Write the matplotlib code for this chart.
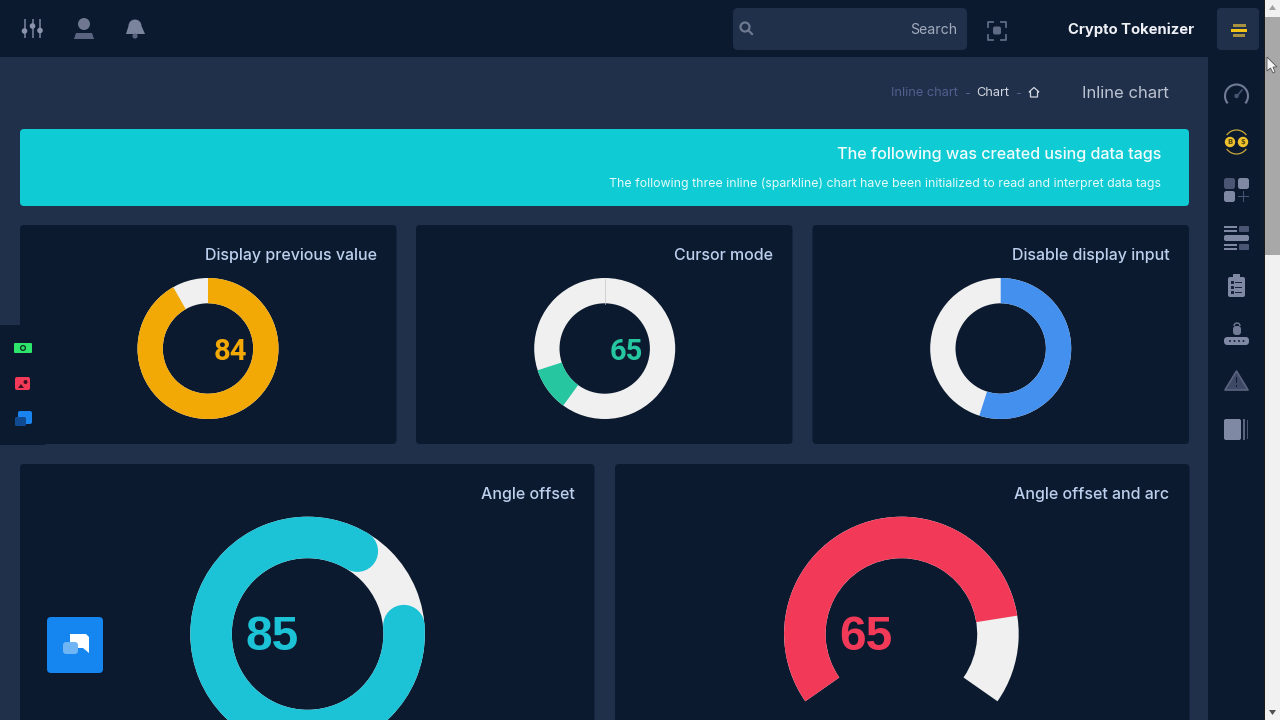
import matplotlib
matplotlib.use('Agg')
import matplotlib.pyplot as plt
import numpy as np
from matplotlib.patches import Wedge, Circle, FancyBboxPatch, Rectangle, Polygon, Arc

# 文字
brand = 'Crypto Tokenizer'
page_title = 'Inline chart'
crumbs = ['Inline chart', 'Chart']
banner_title = 'The following was created using data tags'
banner_text = 'The following three inline (sparkline) chart have been initialized to read and interpret data tags'

# 小圆环
small_titles = ['Display previous value', 'Cursor mode', 'Disable display input']
small_labels = ['84', '65', '']
small_fill = [0.918, 0.65, 0.549]
small_colors = ['#f2a906', '#26c6a0', '#4490ee']

# 大圆环
big_titles = ['Angle offset', 'Angle offset and arc']
big_labels = ['85', '65']
big_fill = [0.85, 0.824]
big_colors = ['#1cc3d6', '#f23a58']

TOP = '#0c1a30'
PAGE = '#20304a'
CARD = '#0c1a2f'
WHITE = '#f0f0f0'
UI_FONT = ['Inter', 'Noto Sans', 'DejaVu Sans']
SMALL_NUM = ['Roboto', 'DejaVu Sans']
BIG_NUM = ['Liberation Sans', 'DejaVu Sans']

fig = plt.figure(figsize=(12.8, 7.2), dpi=100, facecolor=PAGE)
ax = fig.add_axes([0, 0, 1, 1])
ax.set_xlim(0, 1280)
ax.set_ylim(720, 0)
ax.axis('off')


def box(x, y, w, h, color, r=4):
    ax.add_patch(FancyBboxPatch((x + r, y + r), w - 2 * r, h - 2 * r,
                                boxstyle=f'round,pad={r},rounding_size={r}',
                                fc=color, ec='none'))


def rect(x, y, w, h, color):
    ax.add_patch(Rectangle((x, y), w, h, fc=color, ec='none'))


def label(x, y, s, size, color, ha='right', weight='normal', font=UI_FONT):
    ax.text(x, y, s, fontsize=size, color=color, ha=ha, va='center_baseline',
            fontweight=weight, family=font)


def ring(cx, cy, r, w, a1, a2, color):
    # 角度从顶部开始顺时针，y轴是反的
    ax.add_patch(Wedge((cx, cy), r, a1 - 90, a2 - 90, width=w, fc=color, ec='none'))


def dot(x, y, r, color):
    ax.add_patch(Circle((x, y), r, fc=color, ec='none'))


# 背景块
rect(0, 0, 1280, 57, TOP)
rect(1208, 57, 56, 663, TOP)
rect(1264, 0, 1.5, 720, '#1a1a1a')
rect(1265, 0, 15, 720, '#f1f1f1')
rect(1265, 17, 15, 238, '#a8a8a8')
ax.add_patch(Polygon([[1272.5, 5], [1269, 10], [1276, 10]], fc='#a0a0a0', ec='none'))
ax.add_patch(Polygon([[1272.5, 715], [1269, 710], [1276, 710]], fc='#505050', ec='none'))
ax.add_patch(Polygon([[1267, 57], [1267, 71], [1270.5, 68], [1273, 73], [1275, 72], [1273, 67], [1277, 67]],
                     fc='#f5f5f5', ec='#555555', lw=0.6))

# 顶栏左边的图标
for x, y in zip([24.5, 32.5, 40], [31, 26, 30.5]):
    rect(x - 1, 19, 2, 19, '#616b85')
    dot(x, y, 2.8, '#8b94aa')
dot(84, 24, 6, '#6f7890')
ax.add_patch(Polygon([[74, 39], [76, 33], [92, 33], [94, 39]], fc='#5a6480', ec='none'))
ax.add_patch(Wedge((135, 26), 6.5, 180, 360, fc='#7a849c', ec='none'))
ax.add_patch(Polygon([[128.5, 26], [141.5, 26], [145, 34], [126, 34]], fc='#7a849c', ec='none'))
dot(135, 36, 2.6, '#5a6480')

# 搜索框
box(733, 8, 234, 42, PAGE, 5)
ax.add_patch(Circle((745, 27), 4.5, fc='none', ec='#6e788e', lw=1.6))
ax.plot([748.5, 752], [30.5, 34], color='#6e788e', lw=1.6)
label(957, 29, 'Search', 10.2, '#a3abbb')
for dx, dy in [(-1, -1), (1, -1), (-1, 1), (1, 1)]:
    ax.plot([997 + dx * 9, 997 + dx * 9, 997 + dx * 4], [30.5 + dy * 4, 30.5 + dy * 9, 30.5 + dy * 9],
            color='#5f6a84', lw=1.3)
box(993, 26.5, 8, 8, '#5f6a84', 2)
label(1194, 28.5, brand, 10.7, '#eef0f5', weight='bold')
box(1217, 8, 42, 42, PAGE, 4)
rect(1233, 24, 13, 3, '#a8923f')
rect(1231, 29, 16, 3, '#f5c518')
rect(1233, 34, 12, 3, '#a8923f')

# 标题行
label(958, 92, crumbs[0], 9.2, '#4f5f8f')
label(967, 92, '-', 9.2, '#4f5f8f', ha='center')
label(1009, 92, crumbs[1], 9.2, '#d2d6e0')
label(1018, 92, '-', 9.2, '#4f5f8f', ha='center')
ax.add_patch(Polygon([[1029, 92], [1034, 87.5], [1039, 92], [1037.5, 92], [1037.5, 97], [1030.5, 97], [1030.5, 92]],
                     fc='none', ec='#d2d6e0', lw=0.9))
label(1169, 92, page_title, 12, '#bcc3d2')

# 横幅
box(20, 129, 1169, 77, '#0fccd4', 4)
label(1161, 153, banner_title, 11.6, '#f2fbfc', weight='medium')
label(1161, 182, banner_text, 8.9, '#e6fafa')

# 小圆环卡片
small_cards = [20, 416, 812.5]
small_cx = [208, 604.7, 1000.7]
small_cy = 348.5
for i in range(3):
    x = small_cards[i]
    box(x, 225, 376.5, 219, CARD, 4)
    label(x + 357, 254, small_titles[i], 11.5, '#bcd0ee', weight='medium')
    cx = small_cx[i]
    ring(cx, small_cy, 70.5, 25.3, 0, 360, WHITE)
    if i == 1:
        # 光标模式只画一小段
        mid = small_fill[i] * 360
        ring(cx, small_cy, 70.5, 25.3, mid - 18, mid + 18, small_colors[i])
        ax.plot([cx, cx], [small_cy - 70, small_cy - 45], color='#c4c4c4', lw=0.5)
    else:
        ring(cx, small_cy, 70.5, 25.3, 0, small_fill[i] * 360, small_colors[i])
    label(cx + 22, small_cy, small_labels[i], 21, small_colors[i], ha='center', weight='bold', font=SMALL_NUM)

# 左侧浮动工具条
rect(0, 325, 45, 120, CARD)
box(14, 343, 18, 10, '#2ee66b', 1)
ax.add_patch(Circle((23, 348), 2.4, fc='none', ec='#0c3a22', lw=1))
box(15, 377, 15, 13, '#f23a58', 2)
ax.add_patch(Polygon([[18, 388], [21, 384], [24, 388]], fc='#3a1020', ec='none'))
dot(25.5, 382, 2, '#3a1020')
box(18, 411, 14, 13, '#1a84ee', 2)
box(15, 417, 11, 9, '#104a90', 1.5)

# 大圆环卡片
big_cards = [20, 615]
big_cx = [307.6, 901.4]
big_cy = 634
for i in range(2):
    x = big_cards[i]
    box(x, 464, 574.5, 270, CARD, 4)
    label(x + (555 if i == 0 else 554), 493, big_titles[i], 11.5, '#bcd0ee', weight='medium')

# angle offset: 起点85度，圆头
offset = 85
end = offset + big_fill[0] * 360
ring(big_cx[0], big_cy, 117.3, 41.5, 0, 360, WHITE)
ring(big_cx[0], big_cy, 117.3, 41.5, offset, end, big_colors[0])
for a in [offset, end]:
    t = np.deg2rad(a - 90)
    dot(big_cx[0] + 96.6 * np.cos(t), big_cy + 96.6 * np.sin(t), 20.7, big_colors[0])
label(big_cx[0] - 35.5, big_cy - 1, big_labels[0], 34.5, big_colors[0], ha='center', weight='bold', font=BIG_NUM)

# angle offset and arc: 250度的弧
arc_start, arc_span = -125, 250
ring(big_cx[1], big_cy, 117.3, 41.5, arc_start, arc_start + arc_span, WHITE)
ring(big_cx[1], big_cy, 117.3, 41.5, arc_start, arc_start + big_fill[1] * arc_span, big_colors[1])
label(big_cx[1] - 35.5, big_cy - 1, big_labels[1], 34.5, big_colors[1], ha='center', weight='bold', font=BIG_NUM)

# 聊天按钮
box(47, 617, 56, 56, '#1586f0', 4)
ax.add_patch(Polygon([[70, 634], [86, 634], [89, 637], [89, 653], [83, 648], [70, 648]],
                     fc='#ffffff', ec='none', joinstyle='round'))
box(63, 642, 15, 12, '#6fb4f5', 3)

# 右边栏图标
ax.add_patch(Arc((1236.5, 96), 23, 23, theta1=140, theta2=400, color='#717b95', lw=1.5))
dot(1236.5, 96, 2.2, '#4a5574')
ax.plot([1237, 1242], [96, 90], color='#4a5574', lw=1.1)
ax.add_patch(Arc((1236.5, 142), 24, 24, theta1=215, theta2=325, color='#c8a838', lw=0.9))
ax.add_patch(Arc((1236.5, 142), 24, 24, theta1=35, theta2=145, color='#c8a838', lw=0.9))
dot(1230, 142, 5.2, '#f0c32e')
dot(1243, 142, 5.2, '#f0c32e')
ax.text(1230, 142, 'B', fontsize=5, color='#594a10', ha='center', va='center', fontweight='bold')
ax.text(1243, 142, '$', fontsize=5, color='#594a10', ha='center', va='center', fontweight='bold', parse_math=False)
box(1224, 178, 11, 11, '#4a5574', 2.5)
box(1238, 178, 11, 11, '#7f89a4', 2.5)
box(1224, 191, 11, 11, '#7f89a4', 2.5)
rect(1238, 195.5, 11, 1.5, '#4a5574')
rect(1242.7, 191, 1.5, 11, '#4a5574')
rect(1224, 226, 13, 2, '#7f89a4')
rect(1224, 230, 13, 2, '#7f89a4')
box(1239, 226, 10, 6, '#4a5574', 1)
box(1224, 235, 25, 6, '#7f89a4', 2)
rect(1224, 244, 13, 2, '#7f89a4')
rect(1224, 248, 13, 2, '#7f89a4')
box(1239, 244, 10, 6, '#4a5574', 1)
box(1228, 277, 17, 20, '#7f89a4', 2)
rect(1233, 274, 7, 4, '#7f89a4')
for y in [281, 286, 291]:
    rect(1231, y, 2.5, 2.5, '#18243e')
    rect(1235, y + 0.5, 7, 1.2, '#18243e')
box(1233, 326, 8, 9, '#717b95', 3)
ax.add_patch(Arc((1237, 326), 6, 6, theta1=180, theta2=360, color='#717b95', lw=1))
box(1224, 337, 25, 8, '#7f89a4', 3.5)
for x in [1230, 1234.5, 1239, 1243.5]:
    dot(x, 341, 1, '#18243e')
ax.add_patch(Polygon([[1236.5, 371], [1248, 390], [1225, 390]], fc='#3e4966', ec='#5a6480', lw=1.2, joinstyle='round'))
rect(1235.8, 377, 1.5, 6, '#0c1a30')
rect(1235.8, 385, 1.5, 1.5, '#0c1a30')
box(1224, 419, 17, 21, '#7f89a4', 2)
rect(1243, 419, 1.5, 21, '#5a6480')
rect(1246.5, 420, 1.5, 19, '#4a5574')

fig.savefig('out.png', dpi=100, facecolor=PAGE)
